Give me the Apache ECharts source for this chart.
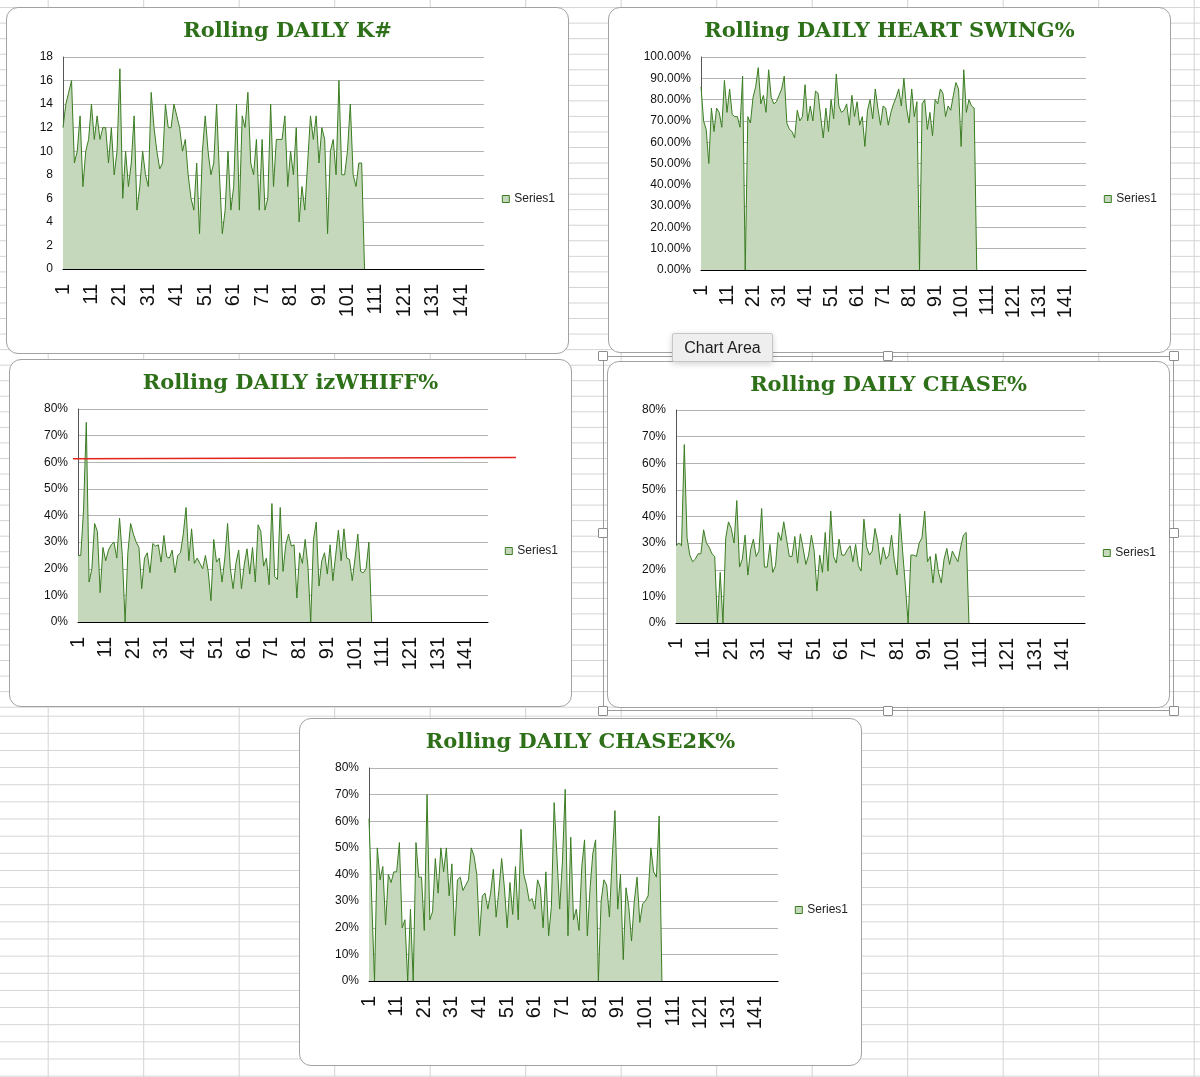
<!DOCTYPE html>
<html lang="en">
<head>
<meta charset="UTF-8">
<title>Rolling DAILY</title>
<script src="https://cdn.jsdelivr.net/npm/echarts@6.0.0/dist/echarts.min.js"></script>
<style>
    body {
        margin: 0;
        width: 1200px;
        height: 1077px;
        position: relative;
        overflow: hidden;
        background: #fff;
    }
    /* spreadsheet cells behind the charts */
    .sheet {
        position: absolute;
        left: 0;
        width: 1200px;
        background-image: linear-gradient(to right, #d3d3d3 1px, transparent 1px),
                          linear-gradient(to bottom, #d3d3d3 1px, transparent 1px);
    }
    .sheet.top {
        top: 0;
        height: 712px;
        background-size: 95.5px 100%, 100% 15.56px;
        background-position: 47.7px 0, 0 7.1px;
    }
    .sheet.bottom {
        top: 712px;
        height: 365px;
        background-size: 95.5px 100%, 100% 17.15px;
        background-position: 47.7px 0, 0 3.7px;
    }
    .box {
        position: absolute;
        box-sizing: border-box;
        background: #fff;
        border: 1px solid #a2a2a2;
        border-radius: 12px;
    }
    .sel {
        position: absolute;
        left: 603px;
        top: 356px;
        width: 571px;
        height: 355px;
        box-sizing: border-box;
        border: 1px solid #9c9c9c;
    }
    .hd {
        position: absolute;
        width: 10px;
        height: 10px;
        box-sizing: border-box;
        background: #fff;
        border: 1px solid #8c8c8c;
        border-radius: 1px;
        z-index: 5;
    }
    .tip {
        position: absolute;
        left: 672px;
        top: 333px;
        width: 101px;
        height: 29px;
        box-sizing: border-box;
        background: #eeeeee;
        border: 1px solid #c6c6c6;
        border-radius: 2px;
        box-shadow: 0 2px 6px rgba(0,0,0,0.18);
        font: 16px 'Liberation Sans', Arial, sans-serif;
        color: #1c1c1c;
        text-align: center;
        line-height: 27px;
        z-index: 6;
    }
</style>
</head>
<body>

<div class="sheet top"></div>
<div class="sheet bottom"></div>

<div id="c1" class="box" style="left:6px;top:7px;width:563px;height:347px;"></div>
<div id="c2" class="box" style="left:608px;top:7px;width:563px;height:346px;"></div>
<div id="c3" class="box" style="left:9px;top:359px;width:563px;height:348px;"></div>
<div class="sel"></div>
<div id="c4" class="box" style="left:607px;top:361px;width:563px;height:347px;"></div>
<div id="c5" class="box" style="left:299px;top:718px;width:563px;height:348px;"></div>

<div class="hd" style="left:598px;top:351px;"></div>
<div class="hd" style="left:883px;top:351px;"></div>
<div class="hd" style="left:1169px;top:351px;"></div>
<div class="hd" style="left:598px;top:528px;"></div>
<div class="hd" style="left:1169px;top:528px;"></div>
<div class="hd" style="left:598px;top:706px;"></div>
<div class="hd" style="left:883px;top:706px;"></div>
<div class="hd" style="left:1169px;top:706px;"></div>

<div class="tip">Chart Area</div>

<script>
    // x categories 1..149 (labels every 10th)
    var categories = [];
    for (var i = 1; i <= 149; i++) {
        categories.push(String(i));
    }

    // Rolling DAILY K#
    var kCount = [12,14,15,16,9,10,13,7,10,11,
        14,11,13,11,12,12,9,12,8,10,
        17,6,10,7,9,13,5,7,10,8,
        7,15,12,10,8.5,9,14,12,12,14,
        13,12,10,11,8,6,5,9,3,10,
        13,10,8,9,14,8,3,5,10,5,
        7,14,5,13,12,15,9,8,11,5,
        11,5,6,14,7,11,11,11,13,7,
        10,8,12,4,7,5,9,13,11,13,
        9,12,11,3,10,11,8,16,8,8,
        10,14,8,7,9,9,0];

    // Rolling DAILY HEART SWING% (percent)
    var heartSwing = [86,70,66,50,76,65,76,74,67,89,
        74,85,73,72,72,67,91,0,72,69,
        81,86,95,78,82,74,94,81,78,79,
        82,85,91,69,66,65,62,75,70,72,
        87,70,77,70,84,83,72,62,76,65,
        80,71,92,77,74,75,78,68,82,72,
        79,68,72,58,75,80,71,85,76,68,
        77,76,68,74,78,81,85,77,90,76,
        69,85,72,79,0,78,80,66,74,63,
        80,78,85,83,72,77,75,82,88,85,
        58,94,74,80,77,76,0];

    // Rolling DAILY izWHIFF% (percent)
    var izWhiff = [25,25,42,75,15,20,37,34,11,28,
        23,27,29,30,24,39,25,0,26,37,
        33,30,28,12.5,24,26,18.5,29.5,28.5,29,
        22.5,32.5,24.5,24,27,18.5,25,26,33,43,
        23,35,22,24,22,20,25,19,8,31,
        22.5,24,15,24,37,20,12.5,22,27,12.5,
        21.5,27.5,18,28,15,36.5,34,21,24,14,
        44.5,17,16,43,19,29,33,28.5,29,9,
        26,22,31,21,0,31,37.5,13.5,23,26,
        18,29,15.5,25,34.5,23,35,24,23.5,15.5,
        24,33,19,18.5,20,30,0];

    // red reference line drawn on the izWHIFF chart (left, right value)
    var redLine = [61.3, 61.8];

    // Rolling DAILY CHASE% (percent)
    var chase = [29,30,29,67,32,25.5,23,24,26,26,
        35,30,28.5,26,25,0,19,0,32,38,
        35.5,30,46,21,24,33,18,27.5,31.5,25,
        27,43,21,21,29.5,19,21.5,34,31,38,
        31.5,25,25,32.5,22.5,33.5,28,22,25.5,33,
        27,12,25.5,19,34,19.5,42,25,22.5,31.5,
        25.5,25.5,27.5,29,23,29.5,21.5,19.5,39,28.5,
        25.5,27,35.5,30.5,22,28.5,24,25.5,33,23.5,
        18,41,27,14,0,25.5,25.5,25,30,32,
        42,23,25,15,26,19,15,24,28,22,
        27,25,23,28.5,33,34,0];

    // Rolling DAILY CHASE2K% (percent)
    var chase2k = [61,30,0,50,38,43,21,40,37,41,
        41,52,20,23,0,27,0,52,39,39,
        19,70,23,26,46,33,50,41,50,32,
        44,17,38,39,34,36,38,50,47,40,
        17,32,33,27,33,42,24,34,46,35,
        20,37,25,43,23,57,40,36,30,31,
        27,38,35,20,41,17,28,67,47,27,
        45,72,17,54,23,27,19,43,53,17,
        35,48,53,0,30,38,36,24,46,64,
        27,40,8,35,28,15,30,39,22,29,
        30,32,50,41,39,62,0];

    var lineColor = '#3b7d23';
    var fillColor = '#c5d8bb';
    var sans = 'Liberation Sans';

    function pct(v) { return v + '%'; }
    function pct2(v) { return v.toFixed(2) + '%'; }

    function makeChart(id, title, data, yMax, yStep, fmt, grid) {
        var chart = echarts.init(document.getElementById(id));
        var option = {
            animation: false,
            title: {
                text: title,
                left: 'center',
                top: 8,
                textStyle: {
                    fontFamily: 'DejaVu Serif',
                    fontWeight: 'bold',
                    fontSize: 21,
                    color: '#2e7019'
                }
            },
            legend: {
                data: ['Series1'],
                orient: 'vertical',
                right: 8,
                top: 180,
                icon: 'rect',
                itemWidth: 7,
                itemHeight: 7,
                itemStyle: {
                    color: fillColor,
                    borderColor: lineColor,
                    borderWidth: 1
                },
                textStyle: {
                    fontFamily: sans,
                    fontSize: 12,
                    color: '#222'
                }
            },
            grid: grid,
            xAxis: {
                type: 'category',
                boundaryGap: false,
                data: categories,
                axisLine: { lineStyle: { color: '#000', width: 1 } },
                axisTick: { show: false },
                axisLabel: {
                    interval: 9,
                    rotate: 90,
                    margin: 15,
                    fontFamily: sans,
                    fontSize: 20,
                    color: '#111'
                },
                splitLine: { show: false }
            },
            yAxis: {
                type: 'value',
                min: 0,
                max: yMax,
                interval: yStep,
                axisLine: { show: true, lineStyle: { color: '#555' } },
                axisTick: { show: false },
                axisLabel: {
                    formatter: fmt,
                    margin: 10,
                    fontFamily: sans,
                    fontSize: 12,
                    color: '#111'
                },
                splitLine: { lineStyle: { color: '#b3b3b3' } }
            },
            series: [{
                name: 'Series1',
                type: 'line',
                data: data,
                symbol: 'none',
                lineStyle: { color: lineColor, width: 1 },
                itemStyle: { color: lineColor },
                areaStyle: { color: fillColor, opacity: 1 }
            }]
        };
        chart.setOption(option);
        return chart;
    }

    makeChart('c1', 'Rolling DAILY K#', kCount, 18, 2, null,
        { left: 56, right: 84, top: 49, bottom: 84 });
    makeChart('c2', 'Rolling DAILY HEART SWING%', heartSwing, 100, 10, pct2,
        { left: 92, right: 84, top: 49, bottom: 82 });
    var grid3 = { left: 68, right: 83, top: 49, bottom: 84 };
    var chart3 = makeChart('c3', 'Rolling DAILY izWHIFF%', izWhiff, 80, 10, pct, grid3);
    makeChart('c4', 'Rolling DAILY CHASE%', chase, 80, 10, pct,
        { left: 68, right: 84, top: 48, bottom: 84 });
    makeChart('c5', 'Rolling DAILY CHASE2K%', chase2k, 80, 10, pct,
        { left: 69, right: 83, top: 49, bottom: 84 });

    // hand-drawn red line on the izWHIFF chart, runs past the plot area
    var w3 = chart3.getWidth();
    var yA = chart3.convertToPixel({ yAxisIndex: 0 }, redLine[0]);
    var yB = chart3.convertToPixel({ yAxisIndex: 0 }, redLine[1]);
    chart3.setOption({
        graphic: [{
            type: 'line',
            z: 100,
            shape: { x1: grid3.left - 5, y1: yA, x2: w3 - grid3.right + 28, y2: yB },
            style: { stroke: '#e3241c', lineWidth: 1.6 }
        }]
    });
</script>

</body>
</html>
